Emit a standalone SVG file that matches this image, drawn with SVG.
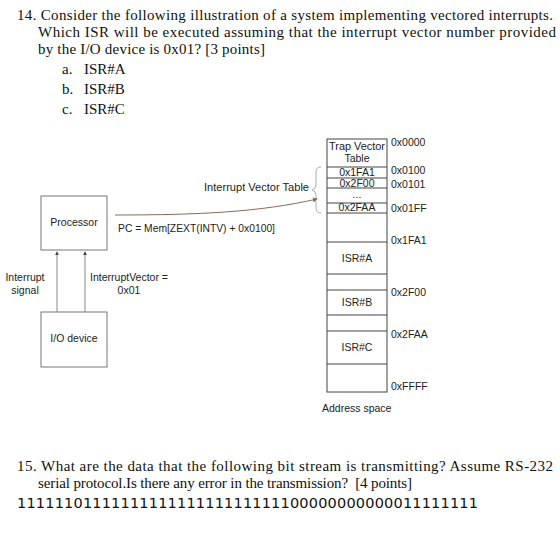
<svg xmlns="http://www.w3.org/2000/svg" width="560" height="535" viewBox="0 0 560 535">
<style>
.q{font-family:"Liberation Serif","DejaVu Serif",serif;font-size:15px;fill:#111}
.d{font-family:"Liberation Sans","Open Sans",sans-serif;font-size:10.5px;fill:#222}
.c{font-family:"Liberation Sans","Open Sans",sans-serif;font-size:10.5px;fill:#222;text-anchor:middle}
.box{fill:#fff;stroke:#777;stroke-width:1}
.mem{fill:#fff;stroke:#444;stroke-width:1}
.ln{stroke:#444;stroke-width:1}
.conn{fill:none;stroke:#888;stroke-width:1}
.bits{font-family:"DejaVu Sans","Liberation Sans",sans-serif;font-size:14.5px;fill:#111}
</style>
<defs>
<marker id="ah" viewBox="0 0 6 6" refX="5" refY="3" markerWidth="4" markerHeight="4" orient="auto">
<path d="M0,0 L6,3 L0,6 z" fill="#444"/>
</marker>
<marker id="ah2" viewBox="0 0 6 6" refX="5" refY="3" markerWidth="5" markerHeight="5" orient="auto">
<path d="M0,0 L6,3 L0,6 z" fill="#8c6a55"/>
</marker>
</defs>
<rect width="560" height="535" fill="#fff"/>

<g id="question14">
<text class="q" x="17" y="20" textLength="536" lengthAdjust="spacing">14. Consider the following illustration of a system implementing vectored interrupts.</text>
<text class="q" x="38" y="37" textLength="518" lengthAdjust="spacing">Which ISR will be executed assuming that the interrupt vector number provided</text>
<text class="q" x="38" y="54" textLength="227" lengthAdjust="spacing">by the I/O device is 0x01? [3 points]</text>
<text class="q" x="62" y="74">a.</text><text class="q" x="84" y="74">ISR#A</text>
<text class="q" x="62" y="94">b.</text><text class="q" x="84" y="94">ISR#B</text>
<text class="q" x="62" y="114">c.</text><text class="q" x="84" y="114">ISR#C</text>
</g>

<g id="processor">
<rect class="box" x="41" y="196" width="66" height="54"/>
<text class="c" x="74" y="226">Processor</text>
</g>

<g id="io-device">
<rect class="box" x="41" y="312" width="66" height="55"/>
<text class="c" x="74" y="342">I/O device</text>
</g>

<g id="address-space">
<rect class="mem" x="327" y="139" width="60" height="253"/>
<line class="ln" x1="327" y1="167" x2="387" y2="167"/>
<line class="ln" x1="327" y1="178" x2="387" y2="178"/>
<line class="ln" x1="327" y1="188" x2="387" y2="188"/>
<line class="ln" x1="327" y1="203" x2="387" y2="203"/>
<line class="ln" x1="327" y1="213" x2="387" y2="213"/>
<line class="ln" x1="327" y1="242" x2="387" y2="242"/>
<line class="ln" x1="327" y1="274" x2="387" y2="274"/>
<line class="ln" x1="327" y1="290" x2="387" y2="290"/>
<line class="ln" x1="327" y1="315" x2="387" y2="315"/>
<line class="ln" x1="327" y1="331" x2="387" y2="331"/>
<line class="ln" x1="327" y1="364" x2="387" y2="364"/>
<text class="c" x="357" y="150" textLength="56" lengthAdjust="spacingAndGlyphs">Trap Vector</text>
<text class="c" x="357" y="162">Table</text>
<text class="c" x="357" y="176">0x1FA1</text>
<text class="c" x="357" y="187">0x2F00</text>
<text class="c" x="357" y="198">...</text>
<text class="c" x="357" y="211">0x2FAA</text>
<text class="c" x="357" y="262">ISR#A</text>
<text class="c" x="357" y="306">ISR#B</text>
<text class="c" x="357" y="351">ISR#C</text>
<text class="d" x="391" y="146">0x0000</text>
<text class="d" x="391" y="174">0x0100</text>
<text class="d" x="391" y="188">0x0101</text>
<text class="d" x="391" y="212">0x01FF</text>
<text class="d" x="391" y="244">0x1FA1</text>
<text class="d" x="391" y="296">0x2F00</text>
<text class="d" x="391" y="338">0x2FAA</text>
<text class="d" x="391" y="390">0xFFFF</text>
<text class="d" x="322" y="412">Address space</text>
</g>

<g id="ivt-label">
<text class="d" x="204" y="191" textLength="105" lengthAdjust="spacingAndGlyphs">Interrupt Vector Table</text>
<path d="M321,167 Q316,167 316,172 L316,185 Q316,189 312,190 Q316,191 316,195 L316,208 Q316,213 321,213" fill="none" stroke="#999" stroke-width="0.8"/>
</g>

<g id="connectors">
<line class="conn" x1="57" y1="312" x2="57" y2="252" marker-end="url(#ah)"/>
<line class="conn" x1="85" y1="312" x2="85" y2="252" marker-end="url(#ah)"/>
<path d="M115,215 C200,215 260,212 317,199" fill="none" stroke="#8c6a55" stroke-width="1" marker-end="url(#ah2)"/>
<text class="d" x="25" y="281" text-anchor="middle">Interrupt</text>
<text class="d" x="25" y="294" text-anchor="middle">signal</text>
<text class="d" x="129" y="281" text-anchor="middle">InterruptVector =</text>
<text class="d" x="129" y="294" text-anchor="middle">0x01</text>
<text class="d" x="118" y="232" textLength="157" lengthAdjust="spacingAndGlyphs">PC = Mem[ZEXT(INTV) + 0x0100]</text>
</g>

<g id="question15">
<text class="q" x="17" y="471" textLength="536" lengthAdjust="spacing">15. What are the data that the following bit stream is transmitting? Assume RS-232</text>
<text class="q" x="38" y="488" textLength="374" lengthAdjust="spacing" xml:space="preserve">serial protocol.Is there any error in the transmission?  [4 points]</text>
<text class="bits" x="17" y="508" textLength="461" lengthAdjust="spacing">1111110111111111111111111111100000000000011111111</text>
</g>
</svg>
